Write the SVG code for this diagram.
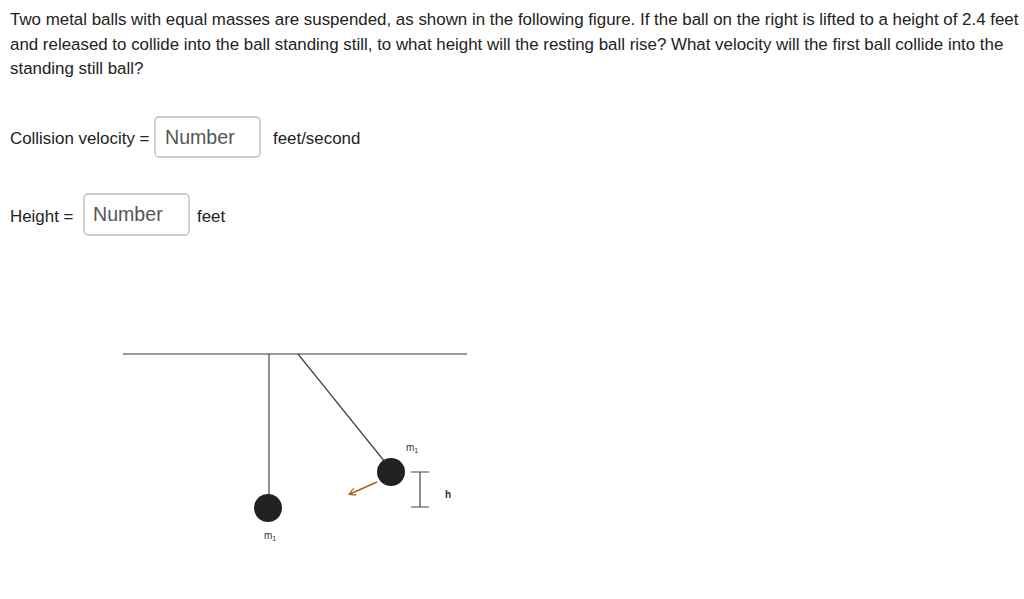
<svg xmlns="http://www.w3.org/2000/svg" width="1024" height="599" viewBox="0 0 1024 599">
<style>
.t{font-family:"Liberation Sans",Arial,sans-serif;font-size:16.9px;fill:#222}
.in{fill:#fff;stroke:#bbb;stroke-width:1.3}
.ph{font-family:"Liberation Sans",Arial,sans-serif;font-size:19.6px;fill:#555}
.s{font-family:"Liberation Sans",Arial,sans-serif;font-size:10px;fill:#333}
.ln{stroke:#444;stroke-width:1.2;fill:none}
</style>
<defs><marker id="ah" markerWidth="8" markerHeight="8" refX="6" refY="4" orient="auto" markerUnits="userSpaceOnUse"><path d="M0,0 L7,4 L0,8" fill="none" stroke="#a0661e" stroke-width="1.3"/></marker></defs>
<rect width="1024" height="599" fill="#fff"/>
<g id="question">
<text class="t" x="10" y="25">Two metal balls with equal masses are suspended, as shown in the following figure. If the ball on the right is lifted to a height of 2.4 feet</text>
<text class="t" x="10" y="50">and released to collide into the ball standing still, to what height will the resting ball rise? What velocity will the first ball collide into the</text>
<text class="t" x="10" y="74">standing still ball?</text>
</g>
<g id="velocity">
<text class="t" x="10" y="144">Collision velocity =</text>
<rect class="in" x="155" y="117" width="105" height="40" rx="4"/>
<text class="ph" x="165" y="144">Number</text>
<text class="t" x="273" y="144">feet/second</text>
</g>
<g id="height">
<text class="t" x="10" y="222">Height =</text>
<rect class="in" x="84" y="194" width="105" height="41" rx="4"/>
<text class="ph" x="93" y="221">Number</text>
<text class="t" x="197" y="222">feet</text>
</g>
<g id="figure">
<line x1="123" y1="354" x2="467" y2="354" stroke="#999" stroke-width="2"/>
<line class="ln" x1="269" y1="354" x2="269" y2="496"/>
<line class="ln" x1="298" y1="354" x2="385" y2="462"/>
<circle cx="268" cy="508" r="14" fill="#222"/>
<circle cx="391" cy="472" r="14" fill="#222"/>
<line x1="377" y1="482" x2="350" y2="494" stroke="#a0661e" stroke-width="1.5" marker-end="url(#ah)"/>
<path class="ln" d="M411,472 H429 M420,472 V507 M411,507 H429"/>
<text class="s" x="406" y="451">m<tspan font-size="7" dy="2">1</tspan></text>
<text class="s" x="264" y="539">m<tspan font-size="7" dy="2">1</tspan></text>
<text class="s" x="445" y="498" font-weight="bold">h</text>
</g>
</svg>
